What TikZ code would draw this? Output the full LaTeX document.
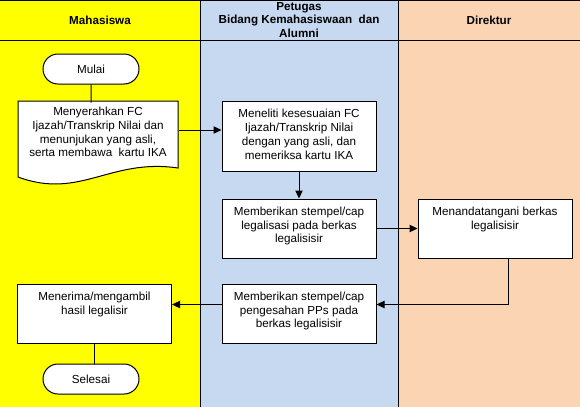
\documentclass[tikz,border=0pt]{standalone}
\usepackage{fontspec}
\setmainfont{Liberation Sans}
\usetikzlibrary{arrows.meta,calc,positioning}
\usetikzlibrary{shapes.misc}

\definecolor{laneyellow}{HTML}{FFFF00}
\definecolor{laneblue}{HTML}{C6D9F1}
\definecolor{lanepeach}{HTML}{FBD4B4}

\begin{document}
\begin{tikzpicture}
	[x=0.75pt,y=-0.75pt,line width=0.75pt,>={Triangle[length=6pt,width=5.5pt]},
	main node/.style={shape=rectangle,draw,fill=white,minimum width=115.5pt,minimum height=44.25pt,inner sep=0pt},
	end node/.style={shape=rounded rectangle,draw,fill=white,minimum width=72pt,minimum height=22.5pt,inner sep=0pt,font=\fontsize{8.75}{10.3}\selectfont},
	txt/.style={align=center,inner sep=0pt,font=\fontsize{8.75}{10.3}\selectfont},
	head/.style={align=center,inner sep=0pt,font=\fontsize{8.75}{10}\selectfont\bfseries}
	]

	% lanes
	\useasboundingbox (0,0) rectangle (580,407);
	\fill[laneyellow] (0,0) rectangle (200,407);
	\fill[laneblue] (200,0) rectangle (398,407);
	\fill[lanepeach] (398,0) rectangle (580,407);
	\draw (0,0) -- (580,0);
	\draw (0,40) -- (580,40);
	\draw (200,0) -- (200,407);
	\draw (398,0) -- (398,407);

	\node [head] (h1) at (100,20) {Mahasiswa};
	\node [head] (h2) at (299,20) {Petugas\\Bidang Kemahasiswaan~ dan\\Alumni};
	\node [head] (h3) at (489,20) {Direktur};

	% steps
	\node [end node] (1) at (91,69) {Mulai};
	\draw[fill=white] (18,101) -- (178,101) -- (178,168) .. controls (110,158) and (80,200) .. (18,177) -- cycle;
	\node [main node,draw=none,fill=none,minimum width=120pt,minimum height=43.5pt,txt] (2) at (98,132)
		{Menyerahkan FC\\Ijazah/Transkrip Nilai dan\\menunjukan yang asli,\\serta membawa~ kartu IKA};

	\node [main node,minimum height=52.5pt] (3) at (299,136.5) {};
	\node [txt,anchor=north] (t3) at ($(3.north)+(0,8)$) {Meneliti kesesuaian FC\\Ijazah/Transkrip Nilai\\dengan yang asli, dan\\memeriksa kartu IKA};

	\node [main node] (4) at (299,228.5) {};
	\node [txt,anchor=north] (t4) at ($(4.north)+(0,8)$) {Memberikan stempel/cap\\legalisasi pada berkas\\legalisisir};

	\node [main node] (5) at (495,228.5) {};
	\node [txt,anchor=north] (t5) at ($(5.north)+(0,8)$) {Menandatangani berkas\\legalisisir};

	\node [main node] (6) at (299,313.5) {};
	\node [txt,anchor=north] (t6) at ($(6.north)+(0,8)$) {Memberikan stempel/cap\\pengesahan PPs pada\\berkas legalisisir};

	\node [main node] (7) at (94.5,313.5) {};
	\node [txt,anchor=north] (t7) at ($(7.north)+(0,8)$) {Menerima/mengambil\\hasil legalisir};

	\node [end node] (8) at (91,379) {Selesai};

	% connectors
	\draw (1) -- (1 |- 2.north);
	\draw[->] (2.east |- 0,130) -- (3.west |- 0,130);
	\draw[->] (3) -- (4);
	\draw[->] (4) -- (5);
	\draw[->] ($(5.south)+(13,0)$) |- ($(6.north east)+(0,21)$);
	\draw[->] ($(6.north west)+(0,21)$) -- ($(7.north east)+(0,21)$);
	\draw (7.south) -- (7.south |- 8.north);

\end{tikzpicture}
\end{document}
